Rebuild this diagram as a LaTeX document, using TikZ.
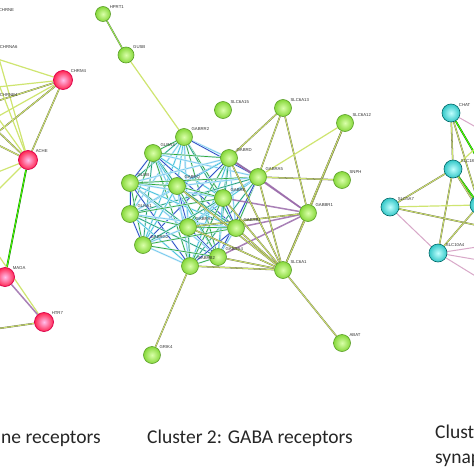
\documentclass[tikz,border=0pt]{standalone}
\usepackage{fontspec}
\setmainfont{Carlito}
\newfontfamily\labfont{Liberation Sans}
\usetikzlibrary{backgrounds}
\pgfdeclarelayer{bottom}
\pgfsetlayers{bottom,background,main}
\definecolor{yel}{HTML}{CFE570}
\definecolor{dkol}{HTML}{66684A}
\definecolor{pur}{HTML}{9A6AAA}
\definecolor{pnk}{HTML}{D8A8C8}
\definecolor{cA}{HTML}{40C0D8}
\definecolor{cB}{HTML}{2A3CC0}
\definecolor{cC}{HTML}{30A838}
\definecolor{cD}{HTML}{20A070}
\definecolor{cE}{HTML}{78C8EC}
\definecolor{gOut}{HTML}{86D83A}
\definecolor{gIn}{HTML}{DAFFAA}
\definecolor{gBord}{HTML}{5A9E28}
\definecolor{labc}{HTML}{333333}
\begin{document}
\begin{tikzpicture}[x=1pt,y=-1pt,
  rn/.style={circle,minimum size=19pt,inner sep=0pt,draw=black!20!red!70!magenta,line width=0.7pt,inner color=red!30!magenta!25!white,outer color=red!80!magenta!85!white},
  gn/.style={circle,minimum size=17pt,inner sep=0pt,draw=gBord,line width=0.6pt,inner color=gIn,outer color=gOut},
  cn/.style={circle,minimum size=18pt,inner sep=0pt,draw=teal!80!black,line width=0.6pt,inner color=cyan!25!white,outer color=teal!55!cyan!80!white},
  lab/.style={font=\labfont\fontsize{4.3}{5}\selectfont,text=labc,inner sep=0.6pt},
  captxt/.style={font=\fontsize{19.5}{23}\selectfont,inner sep=0pt,text=black!85},
  e1/.style={draw=dkol,double=yel,double distance=0.9pt,line width=0.3pt},
  ey/.style={draw=yel,line width=1.2pt},
  eg/.style={draw=green!40!black,double=green!60!lime,double distance=1pt,line width=0.35pt},
  ep/.style={draw=pur,line width=1.5pt,opacity=0.85},
  epk/.style={draw=pnk,line width=1pt},
  under/.style={draw=cyan!18,line width=1.8pt},
  c0/.style={draw=cA,line width=0.7pt},
  c1/.style={draw=cB,line width=0.7pt},
  c2/.style={draw=cC,line width=0.7pt},
  c3/.style={draw=cD,line width=0.7pt},
  c4/.style={draw=cE,line width=0.7pt}]
\useasboundingbox (0,0) rectangle (474,474);
\begin{pgfonlayer}{bottom}
\fill[white] (0,0) rectangle (474,474);
\end{pgfonlayer}
\clip (0,0) rectangle (474,474);

% ---------- Cluster 1 ----------
\node[rn,label={[lab]45:CHRM4}] (CHRM4) at (63,80) {};
\node[rn,label={[lab]45:ACHE}] (ACHE) at (28,160) {};
\node[rn,label={[lab]45:MAOA}] (MAOA) at (5,277) {};
\node[rn,label={[lab]45:HTR7}] (HTR7) at (44,322) {};
\node[lab,anchor=west] (lCHRNE) at (-2,10) {CHRNE};
\node[lab,anchor=west] (lCHRNA6) at (-1,47) {CHRNA6};
\node[lab,anchor=west] (lCHRNB4) at (-1,95) {CHRNB4};
\coordinate (o1) at (-12,20);
\coordinate (o2) at (-12,56);
\coordinate (o3) at (-12,104);
\coordinate (o4) at (-12,122);
\coordinate (o5) at (-12,140);
\coordinate (o6) at (-12,176);
\coordinate (o7) at (-12,200);
\coordinate (o8) at (-12,240);
\coordinate (o9) at (-12,330);
\coordinate (o10) at (-12,88);

% ---------- Cluster 2 ----------
\node[gn,minimum size=15pt,label={[lab]40:HPRT1}] (HPRT1) at (103,14) {};
\node[gn,minimum size=16pt,label={[lab]40:GUSB}] (GUSB) at (126,55) {};
\node[gn,label={[lab]40:SLC6A15}] (S15) at (223,110) {};
\node[gn,label={[lab]40:SLC6A13}] (S13) at (283,108) {};
\node[gn,label={[lab]40:SLC6A12}] (S12) at (345,123) {};
\node[gn,label={[lab]40:GABRR2}] (R2) at (184,137) {};
\node[gn,label={[lab]40:GLRA3}] (GA3) at (153,153) {};
\node[gn,label={[lab]40:GABRD}] (D) at (229,158) {};
\node[gn,label={[lab]40:GABRA5}] (A5) at (258,177) {};
\node[gn,label={[lab]40:SNPH}] (SNPH) at (342,180) {};
\node[gn,label={[lab]40:GLRB}] (LB) at (130,183) {};
\node[gn,label={[lab]40:GABRQ}] (Q) at (177,186) {};
\node[gn,label={[lab]40:GABRE}] (E) at (223,198) {};
\node[gn,label={[lab]40:GABBR1}] (BR1) at (308,213) {};
\node[gn,label={[lab]40:GLRA1}] (LA1) at (130,214) {};
\node[gn,label={[lab]40:GABRA1}] (A1) at (188,227) {};
\node[gn,label={[lab]40:GABRB1}] (B1) at (236,228) {};
\node[gn,label={[lab]40:GABRG2}] (G1) at (143,245) {};
\node[gn,label={[lab]40:GABRA4}] (A4) at (218,257) {};
\node[gn,label={[lab]40:GABRB2}] (B2) at (190,266) {};
\node[gn,label={[lab]40:SLC6A1}] (S1) at (283,270) {};
\node[gn,label={[lab]40:GRIK4}] (GRIK4) at (152,355) {};
\node[gn,label={[lab]40:ABAT}] (ABAT) at (342,343) {};

% ---------- Cluster 3 ----------
\node[cn,label={[lab]40:CHAT}] (CHAT) at (451,113) {};
\node[cn,label={[lab]40:SLC18A3}] (N2) at (453,169) {};
\node[cn] (NX) at (479,205) {};
\node[cn,label={[lab]40:SLC5A7}] (SLC5A7) at (390,207) {};
\node[cn,label={[lab]40:SLC10A4}] (NY) at (438,253) {};
\coordinate (r1) at (490,135);
\coordinate (r2) at (490,180);
\coordinate (r3) at (490,228);
\coordinate (r4) at (490,262);
\coordinate (r5) at (490,285);
\coordinate (r6) at (490,245);

% ---------- captions ----------
\node[captxt,anchor=base west] (t1) at (1,443) {ne receptors};
\node[captxt,anchor=base west] (t2) at (147,443) {Cluster 2: GABA receptors};
\node[captxt,anchor=base west] (t3) at (435,438) {Clust};
\node[captxt,anchor=base west] (t4) at (435,463) {synap};

\begin{pgfonlayer}{background}
% cluster 1 edges
\draw[ey] (o1) -- (ACHE);
\draw[ey] (o2) -- (CHRM4);
\draw[ey] (o10) -- (CHRM4);
\draw[e1] (o3) -- (CHRM4);
\draw[ey] (o4) -- (CHRM4);
\draw[e1] (o5) -- (CHRM4);
\draw[ey] (o3) -- (ACHE);
\draw[e1] (o4) -- (ACHE);
\draw[e1] (o5) -- (ACHE);
\draw[ey] (o6) -- (ACHE);
\draw[ey] (o7) -- (ACHE);
\draw[ey] (o2) -- (ACHE);
\draw[e1] (ACHE) -- (CHRM4);
\draw[eg] (ACHE) -- (MAOA);
\draw[ey] (o8) -- (HTR7);
\draw[ep] (MAOA) -- (HTR7);
\draw[e1] (o9) -- (HTR7);
% cluster 2 clique
\foreach \i/\a in {1/R2,2/GA3,3/D,4/A5,5/LB,6/Q,7/E,8/LA1,9/A1,10/B1,11/G1,12/A4,13/B2}{
  \foreach \j/\b in {1/R2,2/GA3,3/D,4/A5,5/LB,6/Q,7/E,8/LA1,9/A1,10/B1,11/G1,12/A4,13/B2}{
    \ifnum\i<\j
      \pgfmathtruncatemacro\k{mod(\i*3+\j*7,5)}
      \draw[under] (\a) -- (\b);
      \draw[c\k] (\a) -- (\b);
    \fi
  }}
\draw[e1,double=green!30!yel] (HPRT1) -- (GUSB);
\draw[ey] (GUSB) -- (R2);
\draw[e1] (S13) -- (D);
\draw[e1] (S13) -- (A5);
\draw[e1] (S13) -- (BR1);
\draw[ey] (S12) -- (A5);
\draw[e1] (S12) -- (BR1);
\draw[e1] (S12) -- (S1);
\draw[e1] (SNPH) -- (A5);
\draw[ep] (BR1) -- (A5);
\draw[ep] (BR1) -- (D);
\draw[ep] (BR1) -- (B1);
\draw[ep] (BR1) -- (A4);
\draw[ep] (BR1) -- (E);
\draw[ep] (D) -- (A5);
\draw[e1] (BR1) -- (S1);
\draw[e1] (BR1) -- (A1);
\foreach \n in {D,A5,E,B1,A4,B2,A1,Q}{\draw[e1] (S1) -- (\n);}
\draw[e1] (S1) -- (ABAT);
\draw[e1] (B2) -- (GRIK4);
% cluster 3 edges
\draw[e1] (CHAT) -- (N2);
\draw[eg] (CHAT) -- (r2);
\draw[epk] (CHAT) -- (r1);
\draw[e1] (CHAT) -- (NX);
\draw[e1] (N2) -- (SLC5A7);
\draw[e1] (N2) -- (NY);
\draw[eg] (N2) -- (NX);
\draw[ey] (N2) -- (r1);
\draw[e1] (N2) -- (r3);
\draw[ey] (SLC5A7) -- (NX);
\draw[epk] (SLC5A7) -- (NY);
\draw[e1] (SLC5A7) -- (r3);
\draw[e1] (NY) -- (NX);
\draw[epk] (NY) -- (r6);
\draw[epk] (NY) -- (r4);
\draw[epk] (NY) -- (r5);
\end{pgfonlayer}
\end{tikzpicture}
\end{document}
